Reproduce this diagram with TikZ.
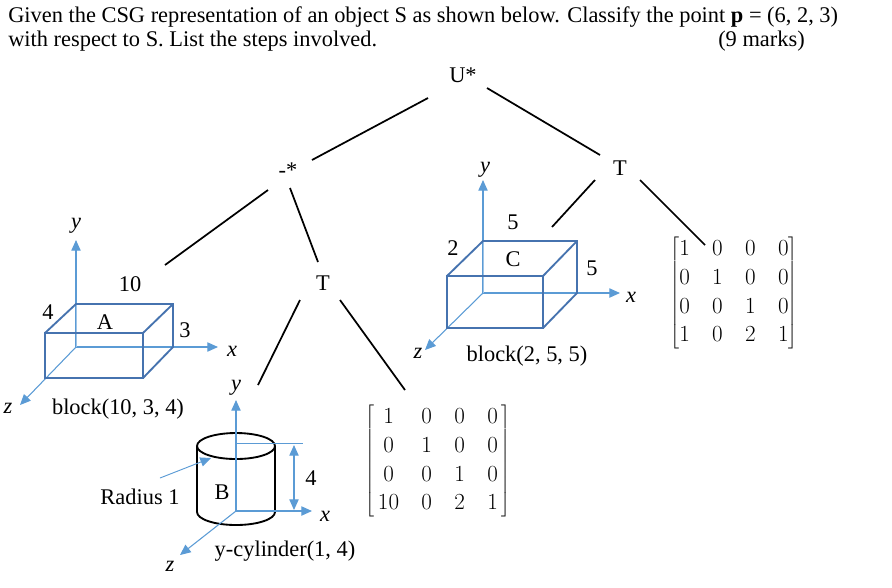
\documentclass[tikz,border=0pt]{standalone}
\usepackage{fontspec}
\setmainfont{Liberation Serif}
\usetikzlibrary{arrows.meta}
\definecolor{axis}{RGB}{91,155,213}
\definecolor{box}{RGB}{70,115,175}
\begin{document}
\begin{tikzpicture}[x=0.75pt,y=-0.75pt,
  txt/.style={inner sep=0pt,font=\fontsize{16.8}{20}\selectfont},
  edge/.style={black,line width=1.3pt},
  ax/.style={axis,line width=0.8pt,-{Triangle[length=8pt,width=7pt]}},
  bx/.style={box,line width=1.4pt},
  hid/.style={axis!60,line width=0.6pt},
  it/.style={txt,font=\fontsize{16.8}{20}\selectfont\itshape}]
\useasboundingbox (0,0) rectangle (892,587);
% title
\node[txt,anchor=west] (t1) at (8,17) {Given the CSG representation of an object S as shown below. Classify the point $\mathbf{p}$ = (6, 2, 3)};
\node[txt,anchor=west] (t2) at (8,41) {with respect to S. List the steps involved.};
\node[txt,anchor=east] (t3) at (805,41) {(9 marks)};
% tree labels
\node[txt] (u) at (463,75) {U*};
\node[txt] (m) at (288,170) {-*};
\node[txt] (tl) at (323,283) {T};
\node[txt] (tr) at (620,168) {T};
\coordinate (u1) at (428,98); \coordinate (u2) at (312,160);
\coordinate (u3) at (487,88); \coordinate (u4) at (600,155);
\coordinate (m1) at (268,190); \coordinate (m2) at (165,265);
\coordinate (m3) at (290,188); \coordinate (m4) at (318,262);
\coordinate (l1) at (300,300); \coordinate (l2) at (258,385);
\coordinate (l3) at (340,300); \coordinate (l4) at (405,390);
\coordinate (r1) at (595,180); \coordinate (r2) at (552,227);
\coordinate (r3) at (640,180); \coordinate (r4) at (705,245);
\draw[edge] (u1)--(u2); \draw[edge] (u3)--(u4);
\draw[edge] (m1)--(m2); \draw[edge] (m3)--(m4);
\draw[edge] (l1)--(l2); \draw[edge] (l3)--(l4);
\draw[edge] (r1)--(r2); \draw[edge] (r3)--(r4);
% block A
\coordinate (oA) at (76,347);
\draw[ax] (oA)--(76,240); \draw[ax] (oA)--(218,347); \draw[ax] (oA)--(20,405);
\draw[hid] (oA)--(76,304);
\draw[bx] (45,333) rectangle (143,378);
\draw[bx] (45,333)--(76,304)--(173,304)--(173,347)--(143,378);
\draw[bx] (143,333)--(173,304);
\node[it] (ya) at (76,226) {y};
\node[it] (xa) at (232,351) {x};
\node[it] (za) at (8,408) {z};
\node[txt] (a10) at (130,284) {10};
\node[txt] (a4) at (48,312) {4};
\node[txt] (aA) at (105,322) {A};
\node[txt] (a3) at (185,330) {3};
\node[txt] (ba) at (118,409) {block(10, 3, 4)};
% cylinder B
\coordinate (oB) at (236,511);
\draw[black,line width=1.4pt] (197,446)--(197,512) arc[start angle=180,end angle=0,x radius=39,y radius=13]--(275,446);
\draw[black,line width=1.4pt] (236,446) ellipse[x radius=39,y radius=13];
\draw[ax] (oB)--(236,400); \draw[ax] (oB)--(312,511); \draw[ax] (oB)--(180,555);
\draw[axis,line width=0.7pt] (236,443)--(303,443);
\draw[axis,line width=0.8pt,{Triangle[length=8pt,width=7pt]}-{Triangle[length=8pt,width=7pt]}] (294,445)--(294,510);
\draw[axis,line width=0.7pt,-{Triangle[length=8pt,width=7pt]}] (160,478)--(211,458);
\node[it] (yb) at (236,388) {y};
\node[it] (xb) at (325,516) {x};
\node[it] (zb) at (170,566) {z};
\node[txt] (b4) at (311,478) {4};
\node[txt] (bB) at (222,492) {B};
\node[txt] (rad) at (140,497) {Radius 1};
\node[txt] (bb) at (285,551) {y-cylinder(1, 4)};
% block C
\coordinate (oC) at (483,293);
\draw[ax] (oC)--(483,180); \draw[ax] (oC)--(620,293); \draw[ax] (oC)--(425,350);
\draw[hid] (oC)--(483,241);
\draw[bx] (447,276) rectangle (543,328);
\draw[bx] (447,276)--(483,241)--(577,241)--(577,293)--(543,328);
\draw[bx] (543,276)--(577,241);
\node[it] (yc) at (485,170) {y};
\node[it] (xc) at (631,297) {x};
\node[it] (zc) at (418,353) {z};
\node[txt] (c5a) at (513,222) {5};
\node[txt] (c2) at (453,248) {2};
\node[txt] (cC) at (513,259) {C};
\node[txt] (c5b) at (592,268) {5};
\node[txt] (bc) at (527,356) {block(2, 5, 5)};
% matrices
\node[txt] (M1) at (438,461) {\renewcommand{\arraystretch}{1.08}$\left[\begin{array}{@{\,}c@{\quad}c@{\quad}c@{\quad}c@{\,}}1&0&0&0\\0&1&0&0\\0&0&1&0\\10&0&2&1\end{array}\right]$};
\node[txt] (M2) at (734,293) {\renewcommand{\arraystretch}{1.08}$\left[\begin{array}{@{}c@{\quad}c@{\quad}c@{\quad}c@{}}1&0&0&0\\0&1&0&0\\0&0&1&0\\1&0&2&1\end{array}\right]$};
\end{tikzpicture}
\end{document}
